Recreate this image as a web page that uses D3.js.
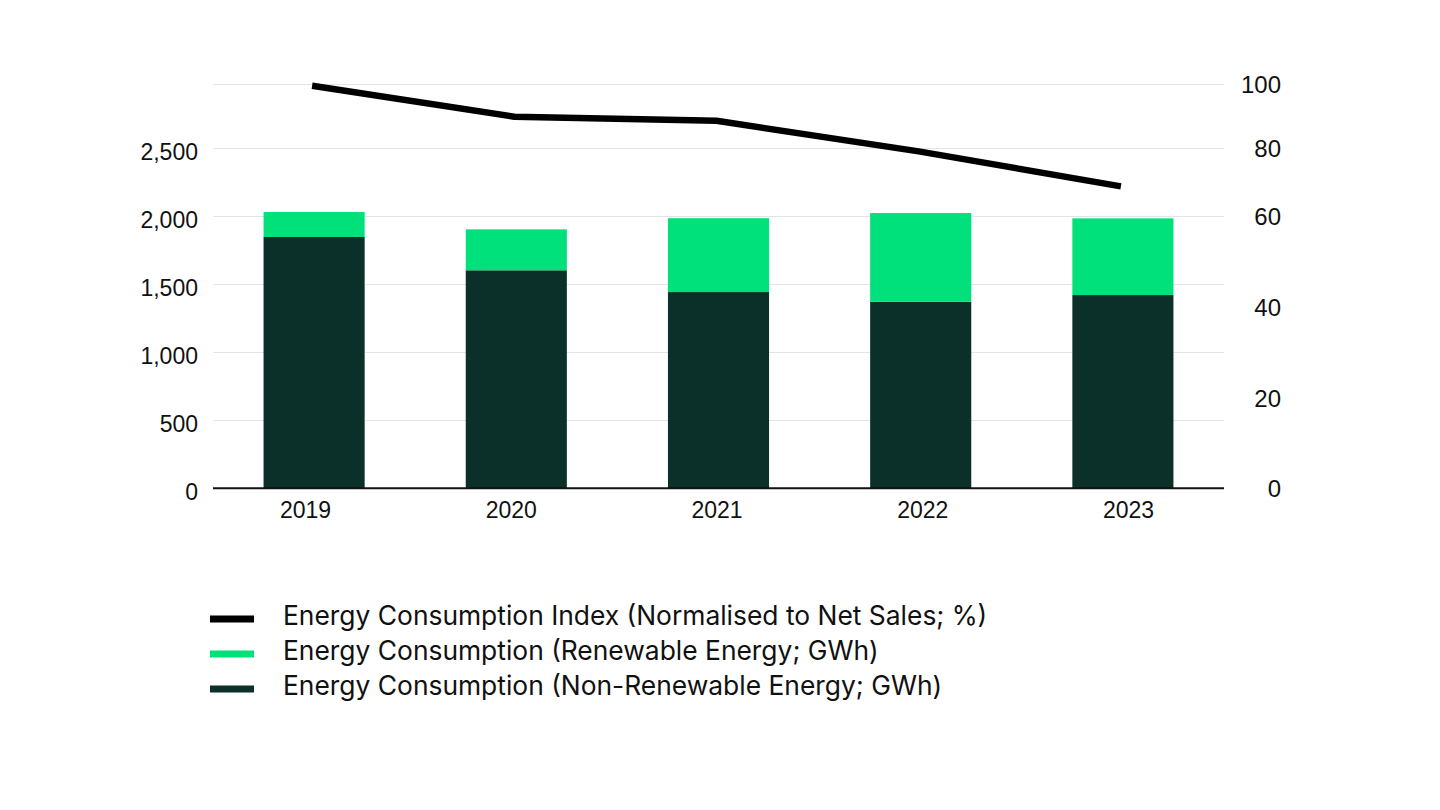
<!DOCTYPE html>
<html>
<head>
<meta charset="utf-8">
<script src="https://cdn.jsdelivr.net/npm/d3@7"></script>
<style>
  body { margin: 0; background: #fff; }
  svg text { fill: #111; }
</style>
</head>
<body>
<script>
// chart data
var years = ["2019", "2020", "2021", "2022", "2023"];
var nonRenewable = [1848, 1603, 1443, 1372, 1421];   // GWh
var renewable = [184, 301, 543, 652, 564];            // GWh
var indexValues = [99.6, 89.9, 88.6, 79.1, 68.8];    // % normalised to net sales
var leftTicks = [0, 500, 1000, 1500, 2000, 2500];
var rightTicks = [0, 20, 40, 60, 80, 100];
var legendLabels = [
  "Energy Consumption Index (Normalised to Net Sales; %)",
  "Energy Consumption (Renewable Energy; GWh)",
  "Energy Consumption (Non-Renewable Energy; GWh)"
];

var w = 1440, h = 810;
var plotL = 213, plotR = 1224, plotB = 488.3, plotT = 84.4;
var colNon = "#0b2f29", colRen = "#00e17b", colLine = "#000";

var svg = d3.select("body").append("svg")
  .attr("width", w)
  .attr("height", h);

var x = d3.scaleBand()
  .domain(years)
  .range([plotL, plotR])
  .paddingInner(0.5)
  .paddingOuter(0.25);

// year labels sit a little wider apart than the bars
var xLabel = d3.scalePoint()
  .domain(years)
  .range([305, 1128]);

var y = d3.scaleLinear()
  .domain([0, 2970])
  .range([plotB, plotT]);

// right axis ticks are not evenly spaced in the original
var yR = d3.scaleLinear()
  .domain([0, 60, 80, 100])
  .range([y(0), y(2000), y(2500), y(2970)]);

// gridlines
svg.append("g").selectAll("line")
  .data(leftTicks.slice(1).concat([2970]))
  .enter().append("line")
  .attr("x1", plotL).attr("x2", plotR)
  .attr("y1", function(d) { return Math.round(y(d)) + 0.5; })
  .attr("y2", function(d) { return Math.round(y(d)) + 0.5; })
  .attr("stroke", "#e4e4e4")
  .attr("stroke-width", 1);

// stacked bars
var bars = svg.append("g");
bars.selectAll("rect.non")
  .data(nonRenewable)
  .enter().append("rect")
  .attr("class", "non")
  .attr("x", function(d, i) { return x(years[i]); })
  .attr("width", x.bandwidth())
  .attr("y", function(d) { return y(d); })
  .attr("height", function(d) { return y(0) - y(d); })
  .attr("fill", colNon);

bars.selectAll("rect.ren")
  .data(renewable)
  .enter().append("rect")
  .attr("class", "ren")
  .attr("x", function(d, i) { return x(years[i]); })
  .attr("width", x.bandwidth())
  .attr("y", function(d, i) { return y(d + nonRenewable[i]); })
  .attr("height", function(d) { return y(0) - y(d); })
  .attr("fill", colRen);

// x axis line
svg.append("line")
  .attr("x1", plotL).attr("x2", plotR)
  .attr("y1", plotB).attr("y2", plotB)
  .attr("stroke", "#111")
  .attr("stroke-width", 2);

// index line
var line = d3.line()
  .x(function(d, i) { return x(years[i]) + x.bandwidth() / 2 - 2; })
  .y(function(d) { return yR(d); });

svg.append("path")
  .datum(indexValues)
  .attr("d", line)
  .attr("fill", "none")
  .attr("stroke", colLine)
  .attr("stroke-width", 6.5)
  .attr("stroke-linejoin", "round");

// axes
var axisFont = "'Liberation Sans', Arial, sans-serif";

var gL = svg.append("g")
  .attr("transform", "translate(" + plotL + ",0)")
  .call(d3.axisLeft(y).tickValues(leftTicks).tickSize(0).tickPadding(15).tickFormat(d3.format(",")));
gL.select(".domain").remove();
gL.selectAll("text")
  .attr("font-family", axisFont)
  .attr("font-size", 23)
  .attr("dy", "0.5em")
  .attr("fill", "#111");

var gR = svg.append("g")
  .attr("transform", "translate(" + plotR + ",0)")
  .call(d3.axisRight(yR).tickValues(rightTicks).tickSize(0).tickPadding(57));
gR.select(".domain").remove();
gR.selectAll("text")
  .attr("font-family", axisFont)
  .attr("font-size", 24)
  .attr("text-anchor", "end")
  .attr("dy", "0.35em")
  .attr("fill", "#111");

var gX = svg.append("g")
  .attr("transform", "translate(0," + plotB + ")")
  .call(d3.axisBottom(xLabel).tickSize(0).tickPadding(0));
gX.select(".domain").remove();
gX.selectAll("text")
  .attr("font-family", axisFont)
  .attr("font-size", 23)
  .attr("y", 22)
  .attr("dy", "0.35em")
  .attr("fill", "#111");

// legend
var legendColors = [colLine, colRen, colNon];
var legend = svg.append("g").selectAll("g")
  .data(legendLabels)
  .enter().append("g")
  .attr("transform", function(d, i) { return "translate(210," + (619 + i * 35) + ")"; });

legend.append("rect")
  .attr("x", 0).attr("y", -3.5)
  .attr("width", 44).attr("height", 7)
  .attr("fill", function(d, i) { return legendColors[i]; });

legend.append("text")
  .attr("x", 73)
  .attr("y", 6)
  .attr("font-family", "Inter, 'Noto Sans', sans-serif")
  .attr("font-size", 26.4)
  .attr("fill", "#111")
  .text(function(d) { return d; });
</script>
</body>
</html>
